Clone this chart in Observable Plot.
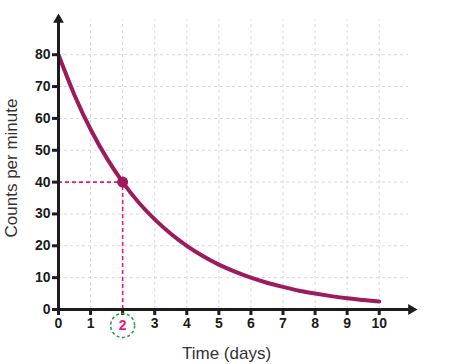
<!DOCTYPE html>
<html><head><meta charset="utf-8">
<script src="https://cdn.jsdelivr.net/npm/d3@7"></script>
<script src="https://cdn.jsdelivr.net/npm/@observablehq/plot@0.6"></script>
<style>
body{margin:0;background:#fff}
</style>
</head><body><div id="chart"></div>
<script>
const days = [0,0.5,1,1.5,2,2.5,3,3.5,4,4.5,5,5.5,6,6.5,7,7.5,8,8.5,9,9.5,10];
const counts = [80,67.3,56.6,47.6,40,33.6,28.3,23.8,20,16.8,14.1,11.9,10,8.4,7.1,5.9,5,4.2,3.5,3.0,2.5];
const xTicks = [0,1,2,3,4,5,6,7,8,9,10];
const yTicks = [0,10,20,30,40,50,60,70,80];
const markedDay = [2];
const markedCount = [40];
const xLabel = "Time (days)";
const yLabel = "Counts per minute";

const curve = days.map((d, i) => ({d, c: counts[i]}));
const marked = markedDay.map((d, i) => ({d, c: markedCount[i]}));

const curveColor = "#9c1b5c";
const pink = "#ea1a7c";
const green = "#2aa040";
const gridColor = "#d8d5e8";
const axisColor = "#1c1c1c";
const xEnd = 11.0, yEnd = 91;

const chart = Plot.plot({
  width: 464, height: 364,
  marginLeft: 58, marginRight: 50, marginTop: 16, marginBottom: 55,
  style: {fontFamily: "'Liberation Sans', Arial, sans-serif", fontSize: "14px", background: "#fff"},
  x: {domain: [0, 11.1], axis: null},
  y: {domain: [0, 92], axis: null},
  marks: [
    Plot.ruleX(xTicks.slice(1), {y1: 0, y2: 90.7, stroke: gridColor, strokeDasharray: "3,3", strokeWidth: 1}),
    Plot.ruleY(yTicks.slice(1), {x1: 0, x2: 10.92, stroke: gridColor, strokeDasharray: "3,3", strokeWidth: 1}),
    Plot.ruleY(marked, {y: "c", x1: 0, x2: "d", stroke: pink, strokeWidth: 1.6, strokeDasharray: "4,3"}),
    Plot.ruleX(marked, {x: "d", y1: 0, y2: "c", stroke: pink, strokeWidth: 1.6, strokeDasharray: "4,3"}),
    Plot.line(curve, {x: "d", y: "c", curve: "natural", stroke: curveColor, strokeWidth: 4, strokeLinecap: "round"}),
    Plot.dot(marked, {x: "d", y: "c", r: 5.5, fill: curveColor}),
    Plot.ruleY([0], {x1: 0, x2: xEnd, stroke: axisColor, strokeWidth: 3}),
    Plot.ruleX([0], {y1: 0, y2: yEnd, stroke: axisColor, strokeWidth: 3}),
    Plot.dot([0], {x: xEnd, y: 0, symbol: "triangle", r: 4, fill: axisColor, rotate: 90}),
    Plot.dot([0], {x: 0, y: yEnd, symbol: "triangle", r: 4, fill: axisColor}),
    Plot.axisY(yTicks, {tickSize: 6, strokeWidth: 3, stroke: axisColor, tickPadding: 2, fontSize: 14, fontWeight: "bold", fill: axisColor, label: null}),
    Plot.axisX(xTicks, {tickSize: 6, strokeWidth: 3, stroke: axisColor, tickPadding: 3, fontSize: 14, fontWeight: "bold", fill: axisColor, label: null,
      tickFormat: d => markedDay.includes(d) ? "" : String(d)}),
    Plot.text([yLabel], {text: d => d, frameAnchor: "left", textAnchor: "middle", lineAnchor: "middle", rotate: -90, dx: -47, dy: 5, fontSize: 17, fill: "#333"}),
    Plot.text([xLabel], {text: d => d, frameAnchor: "bottom", textAnchor: "middle", lineAnchor: "middle", dx: -10, dy: 44, fontSize: 17, fill: "#333"}),
    Plot.dot(markedDay, {x: d => d, frameAnchor: "bottom", dy: 16, r: 12, fill: "none", stroke: green, strokeWidth: 1.6, strokeDasharray: "3,2.5"}),
    Plot.text(markedDay, {x: d => d, frameAnchor: "bottom", lineAnchor: "middle", dy: 16, text: d => String(d), fill: pink, fontSize: 14, fontWeight: "bold"})
  ]
});
document.getElementById("chart").appendChild(chart);
</script>
</body></html>
